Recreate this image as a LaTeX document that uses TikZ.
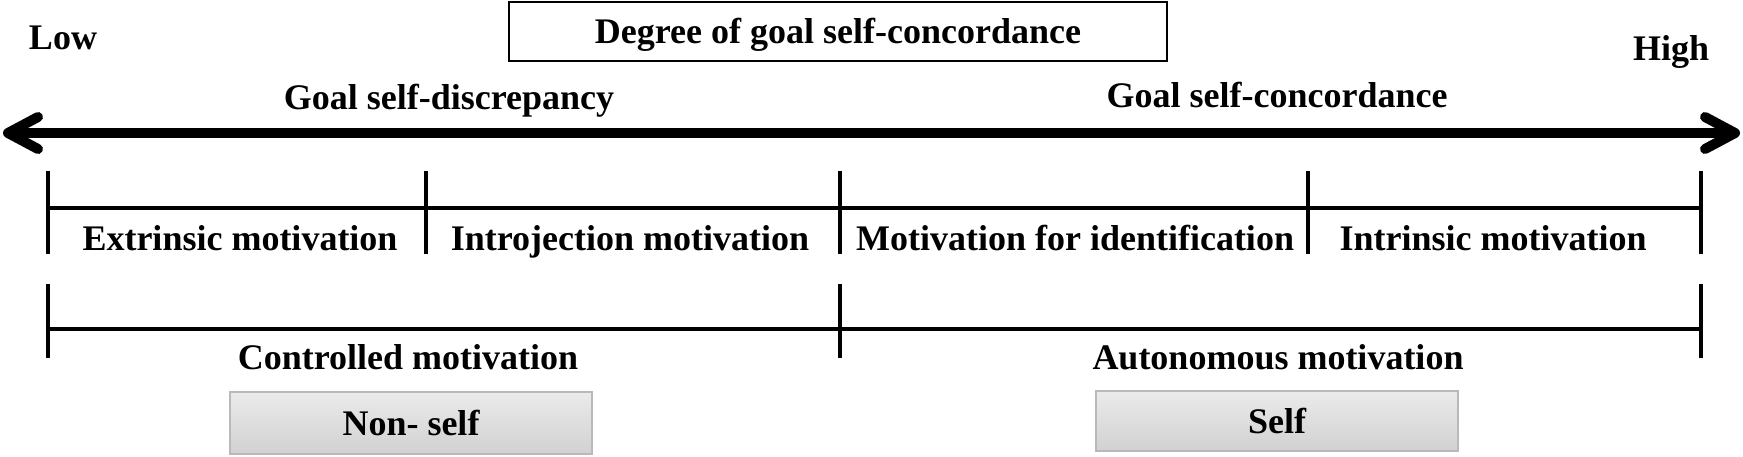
\documentclass[tikz,border=0pt]{standalone}
\usepackage{fontspec}
\setmainfont{Liberation Serif}
\usetikzlibrary{arrows.meta}

\begin{document}
\begin{tikzpicture}[x=0.5pt,y=-0.5pt]
	\tikzset{every node/.style={font=\bfseries\fontsize{18}{20}\selectfont,inner sep=0pt,text depth=0pt}}
	\tikzset{scaleline/.style={line width=1.6pt}}
	\tikzset{selfbox/.style={draw=gray!55,line width=0.8pt,top color=gray!16,bottom color=gray!36,minimum width=181pt,minimum height=30pt}}
	\useasboundingbox (0,0) rectangle (1743,456);
	% heading and ends of the scale
	\node[draw,line width=1pt,minimum width=329pt,minimum height=29.5pt] (degree) at (838,31) {Degree of goal self-concordance};
	\node (low) at (63,38) {Low};
	\node (high) at (1671,48) {High};
	\node (discrepancy) at (449,97) {Goal self-discrepancy};
	\node (concordance) at (1277,95) {Goal self-concordance};
	\coordinate (lowend) at (3,133);
	\coordinate (highend) at (1740,133);
	\draw[line width=5pt,{Straight Barb[round,length=15pt,width=16pt]}-{Straight Barb[round,length=15pt,width=16pt]}] (lowend) -- (highend);
	% four kinds of motivation
	\draw[scaleline] (48,208) -- (1701,208);
	\foreach \x in {48,426,840,1308,1701}
		\draw[scaleline] (\x,171) -- (\x,254);
	\node (extrinsic) at (240,238) {Extrinsic motivation};
	\node (introjection) at (630,238) {Introjection motivation};
	\node (identification) at (1075,238) {Motivation for identification};
	\node (intrinsic) at (1493,238) {Intrinsic motivation};
	% two kinds of motivation
	\draw[scaleline] (48,329) -- (1701,329);
	\foreach \x in {48,840,1701}
		\draw[scaleline] (\x,284) -- (\x,358);
	\node (controlled) at (408,357) {Controlled motivation};
	\node (autonomous) at (1278,357) {Autonomous motivation};
	\node[selfbox,minimum height=31pt] (nonself) at (411,423) {Non- self};
	\node[selfbox] (self) at (1277,421) {Self};
\end{tikzpicture}
\end{document}
